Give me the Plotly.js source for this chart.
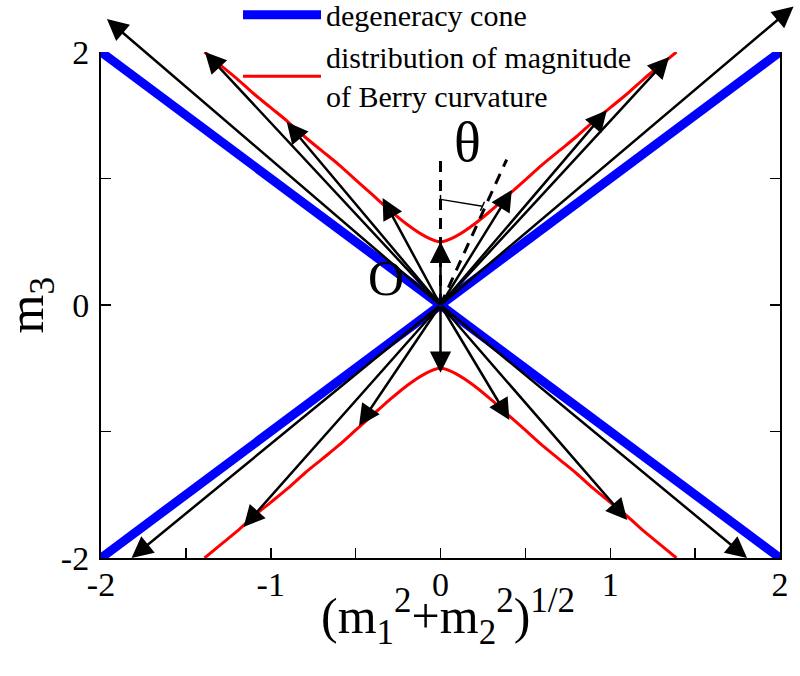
<!DOCTYPE html>
<html>
<head>
<meta charset="utf-8">
<script src="https://cdn.plot.ly/plotly-3.0.1.min.js"></script>
<style>html,body{margin:0;padding:0;background:#fff;}#chart{width:800px;height:676px;}</style>
</head>
<body>
<div id="chart"></div>
<script>
// ---- data ----
const xTickVals = [-2, -1.5, -1, -0.5, 0, 0.5, 1, 1.5, 2];
const xTickText = ['-2', '', '-1', '', '0', '', '1', '', '2'];
const yTickVals = [-2, -1, 0, 1, 2];
const yTickText = ['-2', '', '0', '', '2'];
const xTitle = '(m<sub>1</sub><sup>2</sup>+m<sub>2</sub><sup>2</sup>)<sup>1/2</sup>';
const yTitle = 'm<sub>3</sub>';

// degeneracy cone: m3 = +/- r
const coneX = [-2, 2];
const coneRising = [-2, 2];
const coneFalling = [2, -2];

// distribution of magnitude of Berry curvature (upper and lower branches)
const berryX = [-1.39, -1.3, -1.2, -1.1, -1.0, -0.9, -0.8, -0.7, -0.6, -0.5, -0.4, -0.3, -0.2, -0.1, 0,
                0.1, 0.2, 0.3, 0.4, 0.5, 0.6, 0.7, 0.8, 0.9, 1.0, 1.1, 1.2, 1.3, 1.39];
const berryUpper = [2.0, 1.90, 1.79, 1.67, 1.56, 1.45, 1.33, 1.22, 1.11, 0.99, 0.87, 0.75, 0.64, 0.55, 0.5,
                    0.55, 0.64, 0.75, 0.87, 0.99, 1.11, 1.22, 1.33, 1.45, 1.56, 1.67, 1.79, 1.90, 2.0];
const berryLower = [-2.0, -1.90, -1.79, -1.67, -1.56, -1.45, -1.33, -1.22, -1.11, -0.99, -0.87, -0.75, -0.64, -0.55, -0.5,
                    -0.55, -0.64, -0.75, -0.87, -0.99, -1.11, -1.22, -1.33, -1.45, -1.56, -1.67, -1.79, -1.90, -2.0];

// Berry curvature arrows from the origin (tips)
const arrowTipX = [-1.965, -1.388, -0.906, -0.341, 0, 0.42, 0.98, 1.347, 2.08,
                   -1.82, -1.16, -0.48, 0, 0.406, 1.10, 1.806];
const arrowTipY = [2.26, 2.0, 1.447, 0.846, 0.5, 0.91, 1.54, 1.96, 2.36,
                   -2.0, -1.755, -0.955, -0.535, -0.909, -1.70, -2.0];

// angle construction
const axisDashX = [0, 0];
const axisDashY = [0, 1.2];
const tiltDashX = [0, 0.39];
const tiltDashY = [0, 1.15];
const angleBarX = [0, 0, null, 0, 0.247, null, 0.235, 0.259];
const angleBarY = [0.87, 0.80, null, 0.835, 0.78, null, 0.744, 0.816];

// ---- figure ----
const serif = 'Liberation Serif, Times New Roman, serif';

const traces = [
  {
    x: [coneX[0], coneX[1], null, coneX[0], coneX[1]],
    y: [coneFalling[0], coneFalling[1], null, coneRising[0], coneRising[1]],
    mode: 'lines', name: 'degeneracy cone',
    line: {color: '#0000FF', width: 9}
  },
  {
    x: berryX.concat([null], berryX),
    y: berryUpper.concat([null], berryLower),
    mode: 'lines', name: 'distribution of magnitude<br>of Berry curvature',
    line: {color: '#FF0000', width: 3, shape: 'spline'}
  },
  {
    x: axisDashX, y: axisDashY, mode: 'lines', showlegend: false, hoverinfo: 'skip',
    line: {color: '#000', width: 3, dash: '11px,8px'}
  },
  {
    x: tiltDashX, y: tiltDashY, mode: 'lines', showlegend: false, hoverinfo: 'skip',
    line: {color: '#000', width: 3, dash: '11px,8px'}
  },
  {
    x: angleBarX, y: angleBarY, mode: 'lines', showlegend: false, hoverinfo: 'skip',
    line: {color: '#000', width: 1.5}
  }
];

const annotations = arrowTipX.map((tx, i) => ({
  x: tx, y: arrowTipY[i], xref: 'x', yref: 'y',
  ax: 0, ay: 0, axref: 'x', ayref: 'y',
  text: '', showarrow: true,
  arrowhead: 2, arrowsize: 1.7, arrowwidth: 2.5, arrowcolor: '#000', standoff: 0
}));
annotations.push({
  x: 0.159, y: 1.29, xref: 'x', yref: 'y', text: 'θ', showarrow: false,
  font: {family: serif, size: 56, color: '#000'}
});
annotations.push({
  x: -0.324, y: 0.214, xref: 'x', yref: 'y', text: 'O', showarrow: false,
  font: {family: serif, size: 50, color: '#000'}
});
// axis titles
annotations.push({
  x: 0.511, y: -0.115, xref: 'paper', yref: 'paper', xanchor: 'center', yanchor: 'middle',
  text: xTitle, showarrow: false,
  font: {family: serif, size: 50, color: '#000'}
});
annotations.push({
  x: -0.104, y: 0.5, xref: 'paper', yref: 'paper', xanchor: 'center', yanchor: 'middle',
  text: yTitle, showarrow: false, textangle: -90,
  font: {family: serif, size: 50, color: '#000'}
});

const layout = {
  width: 800, height: 676,
  margin: {l: 101, r: 20, t: 52, b: 118, autoexpand: false},
  paper_bgcolor: '#fff', plot_bgcolor: '#fff',
  font: {family: serif, color: '#000'},
  showlegend: true,
  legend: {
    x: 0.2018, y: 1.125, xanchor: 'left', yanchor: 'top',
    bgcolor: 'rgba(0,0,0,0)', borderwidth: 0,
    font: {family: serif, size: 30, color: '#000'},
    itemwidth: 78, tracegroupgap: 0
  },
  xaxis: {
    range: [-2, 2], showgrid: false, zeroline: false,
    showline: true, linecolor: '#000', linewidth: 2, mirror: false,
    ticks: 'inside', ticklen: 10, tickwidth: 1.5, tickcolor: '#000',
    tickmode: 'array', tickvals: xTickVals, ticktext: xTickText,
    tickfont: {family: serif, size: 34, color: '#000'},
    ticklabelstandoff: -5
  },
  yaxis: {
    range: [-2, 2], showgrid: false, zeroline: false,
    showline: true, linecolor: '#000', linewidth: 2, mirror: 'ticks',
    ticks: 'inside', ticklen: 10, tickwidth: 1.5, tickcolor: '#000',
    tickmode: 'array', tickvals: yTickVals, ticktext: yTickText,
    tickfont: {family: serif, size: 34, color: '#000'},
    ticklabelstandoff: 3
  },
  annotations: annotations
};

Plotly.newPlot('chart', traces, layout, {displayModeBar: false, staticPlot: true});
</script>
</body>
</html>
